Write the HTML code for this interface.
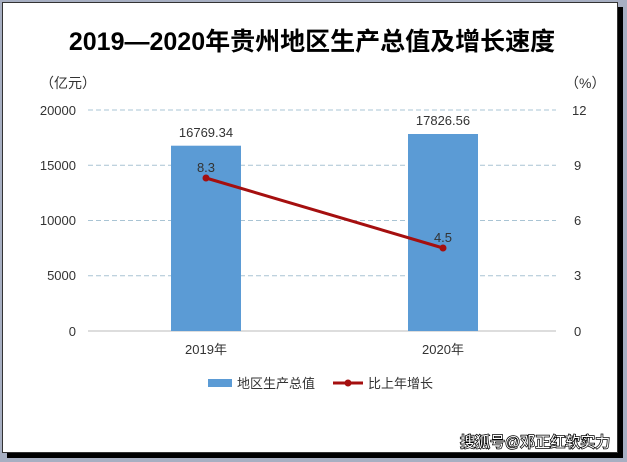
<!DOCTYPE html>
<html><head><meta charset="utf-8"><style>
html,body{margin:0;padding:0;}
body{width:627px;height:462px;background:#a7afc2;position:relative;overflow:hidden;font-family:"Liberation Sans","Noto Sans CJK SC",sans-serif;}
.frame{position:absolute;left:2px;top:2px;width:614px;height:449px;background:#fff;border:1px solid #333;box-shadow:5px 5px 0 #000;}
</style></head><body>
<div class="frame"></div>
<svg width="627" height="462" style="position:absolute;left:0;top:0" font-family="Liberation Sans, Noto Sans CJK SC, sans-serif">
<text x="312" y="50" text-anchor="middle" font-size="25" font-weight="bold" fill="#000">2019—2020年贵州地区生产总值及增长速度</text>
<text x="40" y="88" font-size="14" fill="#333">（亿元）</text>
<text x="565" y="88" font-size="14" fill="#333">（%）</text>
<g stroke="#a9c4d4" stroke-width="1" stroke-dasharray="5,3">
<line x1="88" y1="110" x2="556" y2="110"/>
<line x1="88" y1="165.25" x2="556" y2="165.25"/>
<line x1="88" y1="220.5" x2="556" y2="220.5"/>
<line x1="88" y1="275.75" x2="556" y2="275.75"/>
</g>
<line x1="88" y1="331" x2="556" y2="331" stroke="#bbb" stroke-width="1"/>
<g font-size="13" fill="#333" text-anchor="end">
<text x="76" y="115">20000</text><text x="76" y="170">15000</text><text x="76" y="225">10000</text><text x="76" y="280">5000</text><text x="76" y="336">0</text>
</g>
<g font-size="13" fill="#333" text-anchor="start">
<text x="572" y="115">12</text><text x="574" y="170">9</text><text x="574" y="225">6</text><text x="574" y="280">3</text><text x="574" y="336">0</text>
</g>
<rect x="171" y="145.7" width="70" height="185.3" fill="#5b9bd5"/>
<rect x="408" y="134" width="70" height="197" fill="#5b9bd5"/>
<text x="206" y="137" text-anchor="middle" font-size="13" fill="#333">16769.34</text>
<text x="443" y="125" text-anchor="middle" font-size="13" fill="#333">17826.56</text>
<line x1="206" y1="178" x2="443" y2="248" stroke="#a50f0f" stroke-width="3"/>
<circle cx="206" cy="178" r="3.5" fill="#a50f0f"/><circle cx="443" cy="248" r="3.5" fill="#a50f0f"/>
<text x="206" y="172" text-anchor="middle" font-size="13" fill="#333">8.3</text>
<text x="443" y="242" text-anchor="middle" font-size="13" fill="#333">4.5</text>
<text x="206" y="354" text-anchor="middle" font-size="13" fill="#333">2019年</text>
<text x="443" y="354" text-anchor="middle" font-size="13" fill="#333">2020年</text>
<rect x="208" y="379" width="24" height="8" fill="#5b9bd5"/>
<text x="237" y="388" font-size="13" fill="#333">地区生产总值</text>
<line x1="333" y1="383" x2="363" y2="383" stroke="#a50f0f" stroke-width="3"/>
<circle cx="348" cy="383" r="3.5" fill="#a50f0f"/>
<text x="368" y="388" font-size="13" fill="#333">比上年增长</text>
<text x="460" y="447" font-size="15" fill="#fff" stroke="#000" stroke-width="1.5" paint-order="stroke">搜狐号@邓正红软实力</text>
</svg>
</body></html>
